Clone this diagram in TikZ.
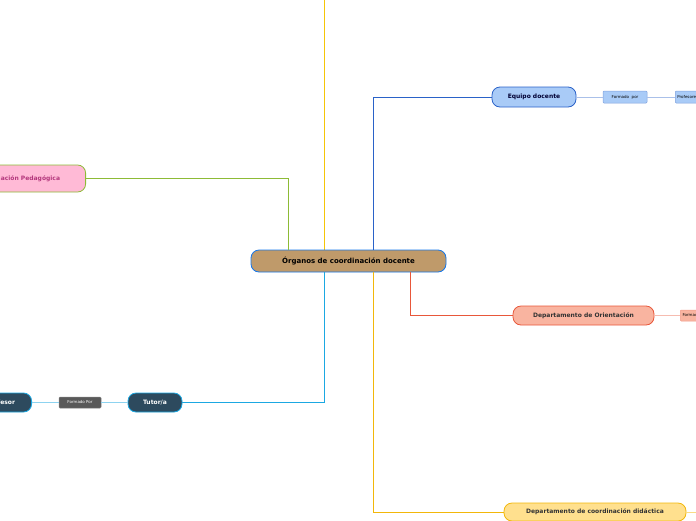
\documentclass[tikz,border=0pt]{standalone}
\usepackage{fontspec}
\setmainfont{DejaVu Sans}
\definecolor{tan}{HTML}{BF9A6A}
\definecolor{eqf}{HTML}{A9CBF7}
\definecolor{eqd}{HTML}{2A62C8}
\definecolor{pk}{HTML}{FFBAD6}
\definecolor{gr}{HTML}{8DBB36}
\definecolor{orf}{HTML}{F9B4A0}
\definecolor{ord}{HTML}{E8573A}
\definecolor{ylf}{HTML}{FFE08E}
\definecolor{yld}{HTML}{F2B70A}
\definecolor{dk}{HTML}{2D4A5E}
\definecolor{cy}{HTML}{1BA8E2}
\tikzset{x=1pt,y=-1pt,
 main/.style={rounded corners=8pt,line width=0.8pt,inner sep=0pt,font=\bfseries\fontsize{6}{7}\selectfont},
 small/.style={rounded corners=1pt,line width=0.5pt,inner sep=0pt,font=\fontsize{4}{5}\selectfont}}
\begin{document}
\begin{tikzpicture}
\useasboundingbox (0,0) rectangle (696,520);
\clip (0,0) rectangle (696,520);
\draw[yld!80!yellow,line width=1pt] (324,0) -- (324,250);
\node[main,draw=eqd,fill=eqf,text=black!80!blue,minimum width=84pt,minimum height=20pt] (eq) at (534,97) {Equipo docente};
\node[small,draw=eqd!60,fill=eqf,minimum width=44pt,minimum height=12pt] (fp1) at (625,97) {Formado\ \ por};
\node[small,draw=eqd!60,fill=eqf,minimum width=40pt,minimum height=12pt,anchor=west,text width=36pt] (pr1) at (675,97) {Profesores};
\node[main,draw=gr,fill=pk,text=magenta!70!black,minimum width=180pt,minimum height=27pt,anchor=east] (ccp) at (86,178.5) {Comisión de Coordinación Pedagógica};
\node[main,draw=ord,fill=orf,text=black!80,minimum width=141pt,minimum height=19pt] (or) at (583.5,315.5) {Departamento de Orientación};
\node[small,draw=ord!60,fill=orf,minimum width=30pt,minimum height=11pt,anchor=west] (fp3) at (680,315.5) {Formado por};
\node[main,draw=yld,fill=ylf,text=black!80,minimum width=182pt,minimum height=18pt] (dd) at (595,512) {Departamento de coordinación didáctica};
\node[main,draw=cy,fill=dk,text=white,minimum width=54pt,minimum height=19pt] (tu) at (155,402.5) {Tutor/a};
\node[small,draw=gray,fill=black!65,text=white,minimum width=42pt,minimum height=11pt] (fp2) at (80,402.5) {Formado Por};
\node[main,draw=cy,fill=dk,text=white,minimum width=62pt,minimum height=19pt,anchor=east] (pf) at (32,402.5) {Profesor};
\node[main,draw=cy!70!blue,fill=tan,text=black,minimum width=195pt,minimum height=22pt,font=\bfseries\fontsize{7}{8}\selectfont] (c) at (348.5,261) {Órganos de coordinación docente};
\draw[eqd,line width=1pt] (373,250) -- (373,97) -- (eq.west);
\draw[eqd!40,line width=0.8pt] (eq.east) -- (fp1.west) (fp1.east) -- (pr1.west);
\draw[gr,line width=1pt] (288,250) -- (288,178.5) -- (ccp.east);
\draw[ord,line width=1pt] (410,272) -- (410,315.5) -- (or.west);
\draw[ord!40,line width=0.8pt] (or.east) -- (fp3.west);
\draw[yld,line width=1pt] (373,272) -- (373,512) -- (dd.west);
\draw[yld!50,line width=0.8pt] (dd.east) -- (696,512);
\draw[cy,line width=1pt] (324,272) -- (324,402.5) -- (tu.east);
\draw[cy!50,line width=0.8pt] (tu.west) -- (fp2.east) (fp2.west) -- (pf.east);
\end{tikzpicture}
\end{document}
